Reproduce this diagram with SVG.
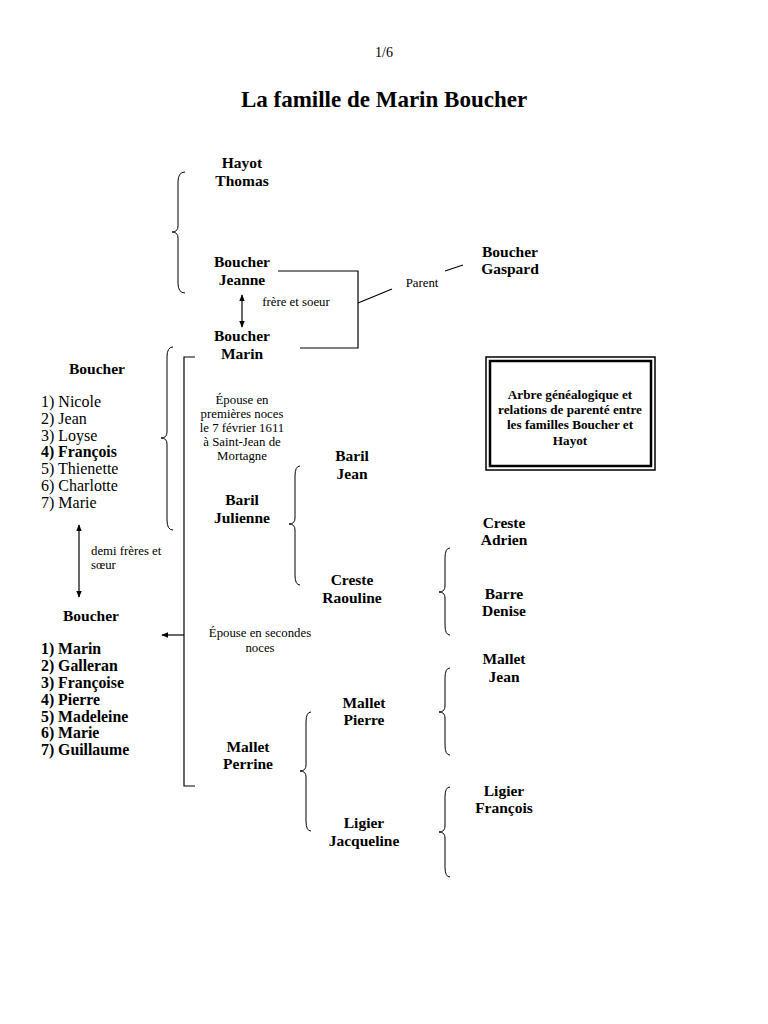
<svg xmlns="http://www.w3.org/2000/svg" width="768" height="1024" viewBox="0 0 768 1024">
<defs>
<marker id="ah" viewBox="0 0 10 10" refX="9" refY="5" markerWidth="7" markerHeight="7" orient="auto-start-reverse" markerUnits="userSpaceOnUse">
<path d="M0,1 L10,5 L0,9 z" fill="#000"/>
</marker>
<style>
text{font-family:"Liberation Serif","Times New Roman",serif;fill:#000}
.n{font-size:15.5px;font-weight:bold;text-anchor:middle}
.s{font-size:12.8px;text-anchor:middle}
.st{font-size:12.8px}
.l{font-size:16px}
.b{font-weight:bold;font-size:15.8px}
.bx{font-size:13.2px;font-weight:bold;text-anchor:middle}
.ln{fill:none;stroke:#000;stroke-width:1.2}
.br{fill:none;stroke:#000;stroke-width:1}
</style>
</defs>
<rect width="768" height="1024" fill="#fff"/>
<text x="384" y="57" style="font-size:14px" text-anchor="middle">1/6</text>
<text x="384" y="107" style="font-size:23px;font-weight:bold" text-anchor="middle">La famille de Marin Boucher</text>

<g id="connectors">
<path class="br" d="M185,172 Q178,172 178,182 L178,226 Q178,232 172,232 Q178,232 178,238 L178,283 Q178,293 185,293"/>
<path class="ln" d="M278,271 L358,271 L358,348 L300,348"/>
<path class="ln" d="M358,303 L392,289"/>
<path class="ln" d="M445,271 L463,265"/>
<line class="ln" x1="242" y1="295" x2="242" y2="327" marker-start="url(#ah)" marker-end="url(#ah)"/>
<path class="br" d="M173,347 Q167,347 167,357 L167,432 Q167,438 161,438 Q167,438 167,444 L167,520 Q167,530 173,530"/>
<path class="ln" d="M195,357 L184,357 L184,786 L195,786"/>
<line class="ln" x1="184" y1="635" x2="162" y2="635" marker-end="url(#ah)"/>
<line class="ln" x1="79" y1="525" x2="79" y2="597" marker-start="url(#ah)" marker-end="url(#ah)"/>
<path class="br" d="M300,466 Q295,466 295,476 L295,518 Q295,524 289,524 Q295,524 295,530 L295,575 Q295,585 300,585"/>
<path class="br" d="M450,548 Q445,548 445,558 L445,586 Q445,592 439,592 Q445,592 445,598 L445,625 Q445,635 450,635"/>
<path class="br" d="M450,668 Q445,668 445,678 L445,706 Q445,712 439,712 Q445,712 445,718 L445,745 Q445,755 450,755"/>
<path class="br" d="M311,712 Q306,712 306,722 L306,765 Q306,771 300,771 Q306,771 306,777 L306,821 Q306,831 311,831"/>
<path class="br" d="M450,787 Q445,787 445,797 L445,826 Q445,832 439,832 Q445,832 445,838 L445,867 Q445,877 450,877"/>
</g>

<g id="hayot-thomas"><text class="n" x="242" y="168">Hayot</text><text class="n" x="242" y="186">Thomas</text></g>
<g id="boucher-jeanne"><text class="n" x="242" y="267">Boucher</text><text class="n" x="242" y="285">Jeanne</text></g>
<g id="boucher-marin"><text class="n" x="242" y="341">Boucher</text><text class="n" x="242" y="359">Marin</text></g>
<g id="boucher-gaspard"><text class="n" x="510" y="257">Boucher</text><text class="n" x="510" y="274">Gaspard</text></g>
<g id="lbl-parent"><text class="s" x="422" y="287">Parent</text></g>
<g id="lbl-frere"><text class="s" x="296" y="306">frère et soeur</text></g>

<g id="boucher-first">
<text class="n" x="97" y="374">Boucher</text>
<text class="l" x="41" y="407">1) Nicole</text>
<text class="l" x="41" y="424">2) Jean</text>
<text class="l" x="41" y="441">3) Loyse</text>
<text class="l b" x="41" y="457">4) François</text>
<text class="l" x="41" y="474">5) Thienette</text>
<text class="l" x="41" y="491">6) Charlotte</text>
<text class="l" x="41" y="508">7) Marie</text>
</g>
<g id="lbl-demi"><text class="st" x="91" y="555">demi frères et</text><text class="st" x="91" y="569">sœur</text></g>
<g id="boucher-second">
<text class="n" x="91" y="621">Boucher</text>
<text class="l b" x="41" y="654">1) Marin</text>
<text class="l b" x="41" y="671">2) Galleran</text>
<text class="l b" x="41" y="688">3) Françoise</text>
<text class="l b" x="41" y="705">4) Pierre</text>
<text class="l b" x="41" y="722">5) Madeleine</text>
<text class="l b" x="41" y="738">6) Marie</text>
<text class="l b" x="41" y="755">7) Guillaume</text>
</g>

<g id="lbl-premieres">
<text class="s" x="242" y="404">Épouse en</text>
<text class="s" x="242" y="418">premières noces</text>
<text class="s" x="242" y="432">le 7 février 1611</text>
<text class="s" x="242" y="446">à Saint-Jean de</text>
<text class="s" x="242" y="460">Mortagne</text>
</g>
<g id="baril-julienne"><text class="n" x="242" y="505">Baril</text><text class="n" x="242" y="523">Julienne</text></g>
<g id="baril-jean"><text class="n" x="352" y="461">Baril</text><text class="n" x="352" y="479">Jean</text></g>
<g id="creste-raouline"><text class="n" x="352" y="585">Creste</text><text class="n" x="352" y="603">Raouline</text></g>
<g id="lbl-secondes"><text class="s" x="260" y="637">Épouse en secondes</text><text class="s" x="260" y="652">noces</text></g>
<g id="mallet-perrine"><text class="n" x="248" y="752">Mallet</text><text class="n" x="248" y="769">Perrine</text></g>
<g id="mallet-pierre"><text class="n" x="364" y="708">Mallet</text><text class="n" x="364" y="725">Pierre</text></g>
<g id="ligier-jacqueline"><text class="n" x="364" y="828">Ligier</text><text class="n" x="364" y="846">Jacqueline</text></g>
<g id="creste-adrien"><text class="n" x="504" y="528">Creste</text><text class="n" x="504" y="545">Adrien</text></g>
<g id="barre-denise"><text class="n" x="504" y="599">Barre</text><text class="n" x="504" y="616">Denise</text></g>
<g id="mallet-jean"><text class="n" x="504" y="664">Mallet</text><text class="n" x="504" y="682">Jean</text></g>
<g id="ligier-francois"><text class="n" x="504" y="796">Ligier</text><text class="n" x="504" y="813">François</text></g>

<g id="info-box">
<rect x="486" y="357" width="169" height="113" fill="none" stroke="#000" stroke-width="1.5"/>
<rect x="490" y="361" width="161" height="105" fill="none" stroke="#000" stroke-width="2.5"/>
<text class="bx" x="570" y="399">Arbre généalogique et</text>
<text class="bx" x="570" y="414">relations de parenté entre</text>
<text class="bx" x="570" y="429">les familles Boucher et</text>
<text class="bx" x="570" y="445">Hayot</text>
</g>
</svg>
